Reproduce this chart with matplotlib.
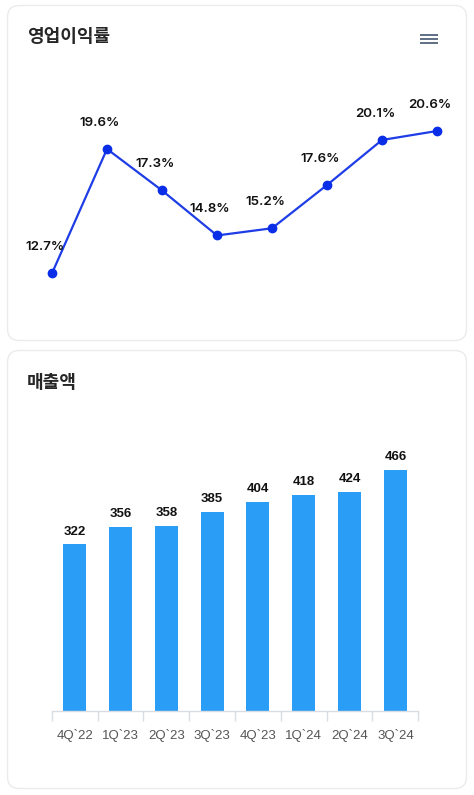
import matplotlib
matplotlib.use("Agg")
import matplotlib.pyplot as plt
from matplotlib.patches import FancyBboxPatch
from matplotlib.lines import Line2D

# ---- data ----
quarters = ["4Q`22", "1Q`23", "2Q`23", "3Q`23", "4Q`23", "1Q`24", "2Q`24", "3Q`24"]
margin_pct = [12.7, 19.6, 17.3, 14.8, 15.2, 17.6, 20.1, 20.6]
revenue = [322, 356, 358, 385, 404, 418, 424, 466]
title_margin = "영업이익률"
title_revenue = "매출액"

W, H = 474, 795
fig = plt.figure(figsize=(W / 100, H / 100), dpi=100)
fig.patch.set_facecolor("white")

def fx(x):
    return x / W

def fy(y):
    return 1 - y / H

def rect(x0, y0, x1, y1):
    return [fx(x0), fy(y1), fx(x1) - fx(x0), fy(y0) - fy(y1)]

# cards
for (x0, y0, x1, y1) in [(7.5, 5.5, 466.5, 340.5), (7.5, 350.5, 466.5, 788.5)]:
    card = FancyBboxPatch((fx(x0), fy(y1)), fx(x1) - fx(x0), fy(y0) - fy(y1),
                          boxstyle="round,pad=0,rounding_size=0.025",
                          transform=fig.transFigure, facecolor="white",
                          edgecolor="#ebebeb", linewidth=1.0, zorder=-5,
                          mutation_aspect=W / H)
    fig.patches.append(card)

title_font = ["Noto Sans CJK KR", "DejaVu Sans"]
fig.text(fx(27), fy(36), title_margin, fontsize=13, fontweight="bold",
         color="#262626", family=title_font, va="center", ha="left")
fig.text(fx(27), fy(382), title_revenue, fontsize=13, fontweight="bold",
         color="#262626", family=title_font, va="center", ha="left")

# hamburger icon
for yy in (35, 39, 43):
    fig.lines.append(Line2D([fx(420), fx(437.5)], [fy(yy), fy(yy)],
                            transform=fig.transFigure, color="#5f6f84",
                            linewidth=1.4, solid_capstyle="butt"))

# ---- line chart ----
ax1 = fig.add_axes(rect(52, 80, 437, 320))
ax1.set_zorder(2)
ax1.set_xlim(0, len(quarters) - 1)
scale = (273.3 - 149) / (19.6 - 12.7)
ax1.set_ylim(12.7 - (320 - 273.3) / scale, 12.7 + (273.3 - 80) / scale)
xs = list(range(len(quarters)))
ax1.plot(xs, margin_pct, color="#1f3de6", linewidth=1.6, clip_on=False, zorder=2)
ax1.plot(xs, margin_pct, linestyle="none", marker="o", markersize=6,
         markerfacecolor="#0a2ee8", markeredgecolor="#0a2ee8", clip_on=False, zorder=3)
for x, v in zip(xs, margin_pct):
    ax1.annotate(f"{v}%", xy=(x, v), xytext=(-5, 18.7), textcoords="offset points",
                 ha="center", va="center", fontsize=9.6, fontweight="semibold",
                 color="#111111", family=["Inter", "DejaVu Sans"],
                 annotation_clip=False)
ax1.axis("off")

# ---- bar chart ----
ax2 = fig.add_axes(rect(51.7, 420, 418.3, 711))
ax2.set_zorder(2)
bscale = (711 - 470) / 466
ax2.set_xlim(-0.5, len(quarters) - 0.5)
ax2.set_ylim(0, (711 - 420) / bscale)
ax2.bar(xs, revenue, width=0.5, color="#2a9ef6", edgecolor="none", zorder=2)
for x, v in zip(xs, revenue):
    ax2.annotate(f"{v}", xy=(x, v), xytext=(0, 9.3), textcoords="offset points",
                 ha="center", va="center", fontsize=9.5, fontweight="bold",
                 color="#111111", family=["Liberation Sans", "DejaVu Sans"])
for x, q in zip(xs, quarters):
    ax2.annotate(q, xy=(x, 0), xycoords=("data", "axes fraction"),
                 xytext=(0, -17.5), textcoords="offset points",
                 ha="center", va="center", fontsize=9.5, color="#555555",
                 family=["Liberation Sans", "DejaVu Sans"], annotation_clip=False)
for s in ("top", "right", "left"):
    ax2.spines[s].set_visible(False)
ax2.spines["bottom"].set_color("#d9dde3")
ax2.spines["bottom"].set_linewidth(1.0)
ax2.set_yticks([])
ax2.set_xticks([i - 0.5 for i in range(len(quarters) + 1)])
ax2.set_xticklabels([])
ax2.tick_params(axis="x", length=7, width=1.0, color="#d9dde3", direction="out")
ax2.set_facecolor("none")
ax1.set_facecolor("none")

fig.savefig("out.png", dpi=100, facecolor="white")
